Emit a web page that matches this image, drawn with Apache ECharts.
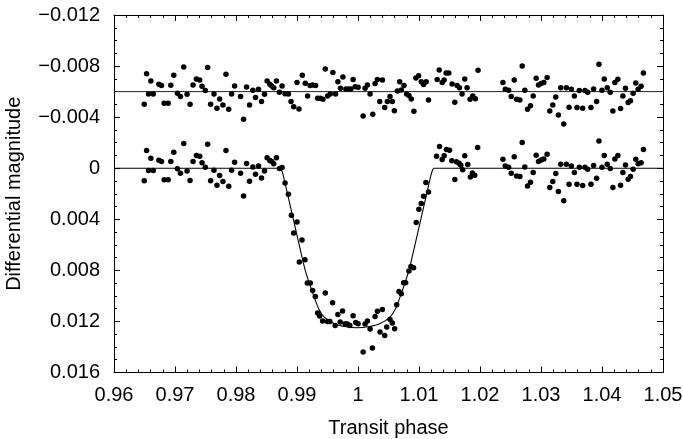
<!DOCTYPE html>
<html>
<head>
<meta charset="utf-8">
<script src="https://cdn.jsdelivr.net/npm/echarts@6/dist/echarts.min.js"></script>
<style>
html,body{margin:0;padding:0;background:#fff;}
#chart{width:683px;height:439px;}
</style>
</head>
<body>
<div id="chart"></div>
<script>
// Upper band: residuals (offset to -0.006)
const residualPoints = [
[0.96496,-0.00501],[0.96534,-0.00739],[0.96566,-0.00582],[0.96604,-0.00684],[0.96643,-0.00582],[0.96735,-0.00658],[0.96779,-0.00647],[0.96822,-0.00509],[0.96888,-0.00509],[0.96931,-0.0065],
[0.9698,-0.00728],[0.9704,-0.00587],[0.97089,-0.00561],[0.97143,-0.00793],[0.97198,-0.00579],[0.97247,-0.00501],[0.97296,-0.00652],[0.9735,-0.00699],[0.97405,-0.00691],[0.97443,-0.00642],
[0.97497,-0.00608],[0.97535,-0.00788],[0.97584,-0.00501],[0.97639,-0.00582],[0.97688,-0.00469],[0.97732,-0.00542],[0.97786,-0.00495],[0.97835,-0.00736],[0.97881,-0.00461],[0.97928,-0.00582],
[0.97977,-0.00644],[0.98075,-0.00561],[0.98124,-0.00383],[0.98173,-0.00637],[0.98222,-0.00495],[0.98276,-0.0061],[0.9832,-0.00553],[0.98369,-0.00618],[0.98418,-0.00522],[0.98467,-0.00579],
[0.9851,-0.00684],[0.98554,-0.00658],[0.98586,-0.00644],[0.98619,-0.00631],[0.98663,-0.00684],[0.98712,-0.00595],[0.98755,-0.00644],[0.98804,-0.00584],[0.98859,-0.00582],[0.98902,-0.00522],
[0.98946,-0.00482],[0.99,-0.00671],[0.99033,-0.00464],
[0.99087,-0.00728],[0.99136,-0.00665],[0.99174,-0.00566],[0.99213,-0.00647],[0.99256,-0.00652],[0.99305,-0.00647],[0.99338,-0.00548],[0.99381,-0.00548],[0.99425,-0.0054],[0.99463,-0.00778],
[0.99501,-0.00566],[0.99545,-0.00582],[0.99588,-0.00749],[0.99632,-0.00582],[0.9967,-0.00678],[0.99713,-0.00626],[0.99752,-0.00715],[0.99801,-0.00621],[0.99844,-0.00621],[0.99882,-0.00621],
[0.9992,-0.00694],[0.99953,-0.00639],[1.00002,-0.00634],[1.00084,-0.00409],[1.00116,-0.00626],[1.00155,-0.00652],[1.00198,-0.00582],[1.00242,-0.00422],[1.0028,-0.00663],[1.00318,-0.00694],
[1.00356,-0.00522],[1.004,-0.00691],[1.00438,-0.00475],[1.00481,-0.00522],[1.00525,-0.00561],[1.00563,-0.00522],[1.00596,-0.00451],[1.00645,-0.00605],[1.00683,-0.00678],[1.0071,-0.00613],
[1.00754,-0.00647],[1.00797,-0.00582],[1.00835,-0.00569],[1.00873,-0.00542],[1.00917,-0.00446],[1.00949,-0.00707],[1.00993,-0.00725],[1.01037,-0.00678],[1.01075,-0.00655],[1.01118,-0.00678],
[1.01156,-0.00535],[1.01298,-0.00694],[1.01331,-0.0077],[1.0138,-0.00671],[1.01412,-0.00691],[1.01445,-0.00746],[1.01489,-0.00746],[1.01543,-0.0066],[1.01587,-0.00516],[1.01625,-0.00647],
[1.01663,-0.00631],[1.01706,-0.00582],[1.0175,-0.00699],[1.01788,-0.00631],[1.01837,-0.0054],[1.01881,-0.00566],[1.01924,-0.00545],[1.01968,-0.00767],
[1.02376,-0.00671],[1.02414,-0.00618],[1.02469,-0.0061],[1.02512,-0.00561],[1.02561,-0.00691],[1.02599,-0.0054],[1.02654,-0.00535],[1.02692,-0.00801],[1.02735,-0.0061],[1.02779,-0.00461],
[1.02828,-0.0049],[1.02872,-0.00566],[1.02921,-0.00705],[1.02959,-0.00652],[1.03002,-0.00663],[1.03046,-0.00671],[1.031,-0.0071],[1.03144,-0.00448],[1.03193,-0.00495],[1.03242,-0.00558],
[1.03285,-0.00417],[1.03324,-0.00631],[1.03373,-0.00346],[1.03416,-0.00631],[1.0346,-0.00477],[1.03498,-0.00618],[1.03547,-0.00566],[1.0359,-0.00475],[1.03628,-0.00608],[1.03683,-0.00469],
[1.03721,-0.00608],[1.03765,-0.00595],[1.03819,-0.00475],[1.03863,-0.00621],[1.03912,-0.00522],[1.0395,-0.00814],[1.03999,-0.0061],[1.04037,-0.00699],[1.04086,-0.00631],[1.04135,-0.00595],
[1.04178,-0.00448],[1.04211,-0.00671],[1.0426,-0.00697],[1.04304,-0.00467],[1.04342,-0.00566],[1.04385,-0.00626],[1.04429,-0.00514],[1.04467,-0.00529],[1.04511,-0.00587],[1.04554,-0.00668],
[1.04592,-0.00618],[1.04641,-0.00642],[1.04679,-0.00746]
];

// Lower band: light curve
const lightCurvePoints = [
[0.96496,0.00099],[0.96534,-0.00139],[0.96566,0.00018],[0.96604,-0.00078],[0.96643,0.00018],[0.96735,-0.00063],[0.96779,-0.00052],[0.96822,0.00091],[0.96888,0.00091],[0.96931,-0.00052],
[0.9698,-0.00125],[0.9704,0.00005],[0.97089,0.00039],[0.97143,-0.00193],[0.97198,0.00021],[0.97247,0.00097],[0.97296,-0.00052],[0.9735,-0.00099],[0.97405,-0.00094],[0.97443,-0.00042],
[0.97497,-0.00008],[0.97535,-0.00188],[0.97584,0.00099],[0.97639,0.00016],[0.97688,0.00133],[0.97732,0.00058],[0.97786,0.00105],[0.97835,-0.00139],[0.97881,0.00141],[0.97928,0.00016],
[0.97977,-0.00047],[0.98075,0.00039],[0.98124,0.00217],[0.98173,-0.00037],[0.98222,0.00102],[0.98276,-0.0001],[0.9832,0.00047],[0.98369,-0.00018],[0.98418,0.00076],[0.98467,0.00021],
[0.9851,-0.00081],[0.98554,-0.0006],[0.98586,-0.00052],[0.98619,-0.00034],[0.98663,-0.00081],[0.98712,0.00003],[0.98755,-0.00005],[0.98804,0.00115],[0.98859,0.00204],
[0.98908,0.00369],[0.98946,0.00507],[0.99,0.00421],[0.99082,0.00562],
[0.99038,0.00735],[0.99131,0.00716],[0.99169,0.00899],[0.99218,0.00899],[0.99256,0.00957],[0.993,0.01004],[0.99338,0.01134],[0.99371,0.01158],[0.9942,0.01197],[0.99463,0.00978],
[0.99501,0.012],[0.99539,0.012],[0.99583,0.01053],[0.99626,0.01231],[0.9967,0.01145],[0.99708,0.01205],[0.99746,0.01119],[0.9979,0.01218],[0.99828,0.01221],[0.99866,0.01231],
[0.9992,0.01155],[0.99964,0.01208],[1.00002,0.01218],[1.00084,0.0144],[1.00116,0.01221],[1.00155,0.01197],[1.00198,0.0126],[1.00236,0.01409],[1.0028,0.01161],[1.00318,0.01121],
[1.00362,0.01283],[1.004,0.01106],[1.00438,0.0131],[1.00471,0.01244],[1.00525,0.01184],[1.00563,0.01213],[1.00601,0.01257],[1.00634,0.01069],[1.00672,0.00965],[1.0071,0.00983],
[1.00748,0.00897],[1.00781,0.00897],[1.00835,0.00805],[1.00868,0.00769],[1.00911,0.00779],
[1.00955,0.00426],[1.00998,0.00322],[1.01037,0.00277],[1.01075,0.0022],[1.01113,0.00112],[1.01156,0.00186],[1.01287,-0.00094],[1.01336,-0.0017],[1.0138,-0.00068],[1.01412,-0.00097],
[1.0145,-0.00146],[1.015,-0.00141],[1.01538,-0.00058],[1.01587,0.00089],[1.01614,-0.0005],[1.01657,-0.00039],[1.01685,-0.00024],[1.01717,0.00013],[1.0175,-0.00097],[1.01799,-0.00029],
[1.01842,0.00068],[1.01875,0.00037],[1.01913,0.00055],[1.01962,-0.00162],
[1.02376,-0.00071],[1.02414,-0.00018],[1.02469,-0.00008],[1.02512,0.00039],[1.02561,-0.00089],[1.02599,0.0006],[1.02654,0.00065],[1.02692,-0.00201],[1.02735,-0.0001],[1.02779,0.00139],
[1.02828,0.0011],[1.02872,0.00034],[1.02921,-0.00102],[1.02959,-0.00052],[1.03002,-0.00065],[1.03046,-0.00073],[1.031,-0.0011],[1.03144,0.00152],[1.03193,0.00105],[1.03242,0.00042],
[1.03285,0.00183],[1.03324,-0.00031],[1.03373,0.00254],[1.03416,-0.00031],[1.0346,0.00125],[1.03498,-0.00018],[1.03547,0.00034],[1.0359,0.00125],[1.03628,-0.00008],[1.03683,0.00136],
[1.03721,-0.00008],[1.03765,0.00008],[1.03819,0.00125],[1.03863,-0.00021],[1.03912,0.00078],[1.0395,-0.00214],[1.03999,-0.00008],[1.04037,-0.00099],[1.04086,-0.00031],[1.04135,0.00003],
[1.04178,0.00152],[1.04211,-0.00073],[1.0426,-0.00099],[1.04304,0.00133],[1.04342,0.00034],[1.04385,-0.00026],[1.04429,0.00086],[1.04467,0.00065],[1.04511,0.00008],[1.04554,-0.00071],
[1.04592,-0.00034],[1.04641,-0.00042],[1.04679,-0.00146]
];

// Transit model curve
const modelCurve = [
[0.96,0],[0.9872,0],[0.9876,0.0003],[0.9882,0.0015],[0.99055,0.0064],[0.99135,0.008],[0.99245,0.0096],
[0.99355,0.011],[0.99455,0.0117],[0.99625,0.0122],[0.99805,0.01242],[0.99985,0.0125],[1.00165,0.01242],
[1.00345,0.0122],[1.00515,0.0117],[1.00615,0.011],[1.00725,0.0096],[1.00835,0.008],[1.00915,0.0064],
[1.0115,0.0015],[1.0121,0.0003],[1.0125,0],[1.05,0]
];

// Residual reference line
const residualLine = [[0.96,-0.006],[1.05,-0.006]];

const xRange = {min:0.96, max:1.05, interval:0.01};
const yRange = {min:-0.012, max:0.016, interval:0.004};

const FONT = "'Liberation Sans', Arial, Helvetica, sans-serif";
const chart = echarts.init(document.getElementById('chart'), null, {renderer:'canvas'});

function fmt(v, d) {
  const s = String(Number(v.toFixed(d)));
  return s.charAt(0) === '-' ? '\u2212' + s.slice(1) : s;
}

function xAxisDef(pos, show) {
  return {
    type:'value', position:pos, min:xRange.min, max:xRange.max, interval:xRange.interval,
    axisLine:{show:true, onZero:false, lineStyle:{color:'#000', width:1}},
    axisTick:{show:true, inside:true, length:6, lineStyle:{color:'#000', width:1}},
    minorTick:{show:true, splitNumber:5, length:3, lineStyle:{color:'#000', width:1}},
    splitLine:{show:false}, minorSplitLine:{show:false},
    axisLabel:{show:show, color:'#000', fontSize:20, fontFamily:FONT, margin:13,
      formatter:v => fmt(v, 2)},
    name: show ? 'Transit phase' : '', nameLocation:'middle', nameGap:46,
    nameTextStyle:{color:'#000', fontSize:20, fontFamily:FONT}
  };
}
function yAxisDef(pos, show) {
  return {
    type:'value', position:pos, inverse:true, min:yRange.min, max:yRange.max, interval:yRange.interval,
    axisLine:{show:true, onZero:false, lineStyle:{color:'#000', width:1}},
    axisTick:{show:true, inside:true, length:6, lineStyle:{color:'#000', width:1}},
    minorTick:{show:true, splitNumber:4, length:3, lineStyle:{color:'#000', width:1}},
    splitLine:{show:false}, minorSplitLine:{show:false},
    axisLabel:{show:show, color:'#000', fontSize:20, fontFamily:FONT, margin:14,
      formatter:v => fmt(v, 3)},
    name: show ? 'Differential magnitude' : '', nameLocation:'middle', nameGap:90,
    nameTextStyle:{color:'#000', fontSize:20, fontFamily:FONT}
  };
}

chart.setOption({
  animation:false,
  backgroundColor:'#fff',
  grid:{left:114, right:20, top:15, bottom:66.5, containLabel:false, outerBoundsMode:'none'},
  xAxis:[xAxisDef('bottom', true), xAxisDef('top', false)],
  yAxis:[yAxisDef('left', true), yAxisDef('right', false)],
  series:[
    {type:'line', data:residualLine, xAxisIndex:0, yAxisIndex:0, showSymbol:false, silent:true,
     lineStyle:{color:'#222', width:1}, z:1},
    {type:'line', data:modelCurve, xAxisIndex:0, yAxisIndex:0, showSymbol:false, silent:true, smooth:0.25,
     lineStyle:{color:'#000', width:1.1}, z:1},
    {type:'scatter', data:residualPoints, xAxisIndex:0, yAxisIndex:0, symbol:'circle', symbolSize:5.5,
     itemStyle:{color:'#000', opacity:1}, z:2},
    {type:'scatter', data:lightCurvePoints, xAxisIndex:0, yAxisIndex:0, symbol:'circle', symbolSize:5.5,
     itemStyle:{color:'#000', opacity:1}, z:2}
  ]
});
</script>
</body>
</html>
